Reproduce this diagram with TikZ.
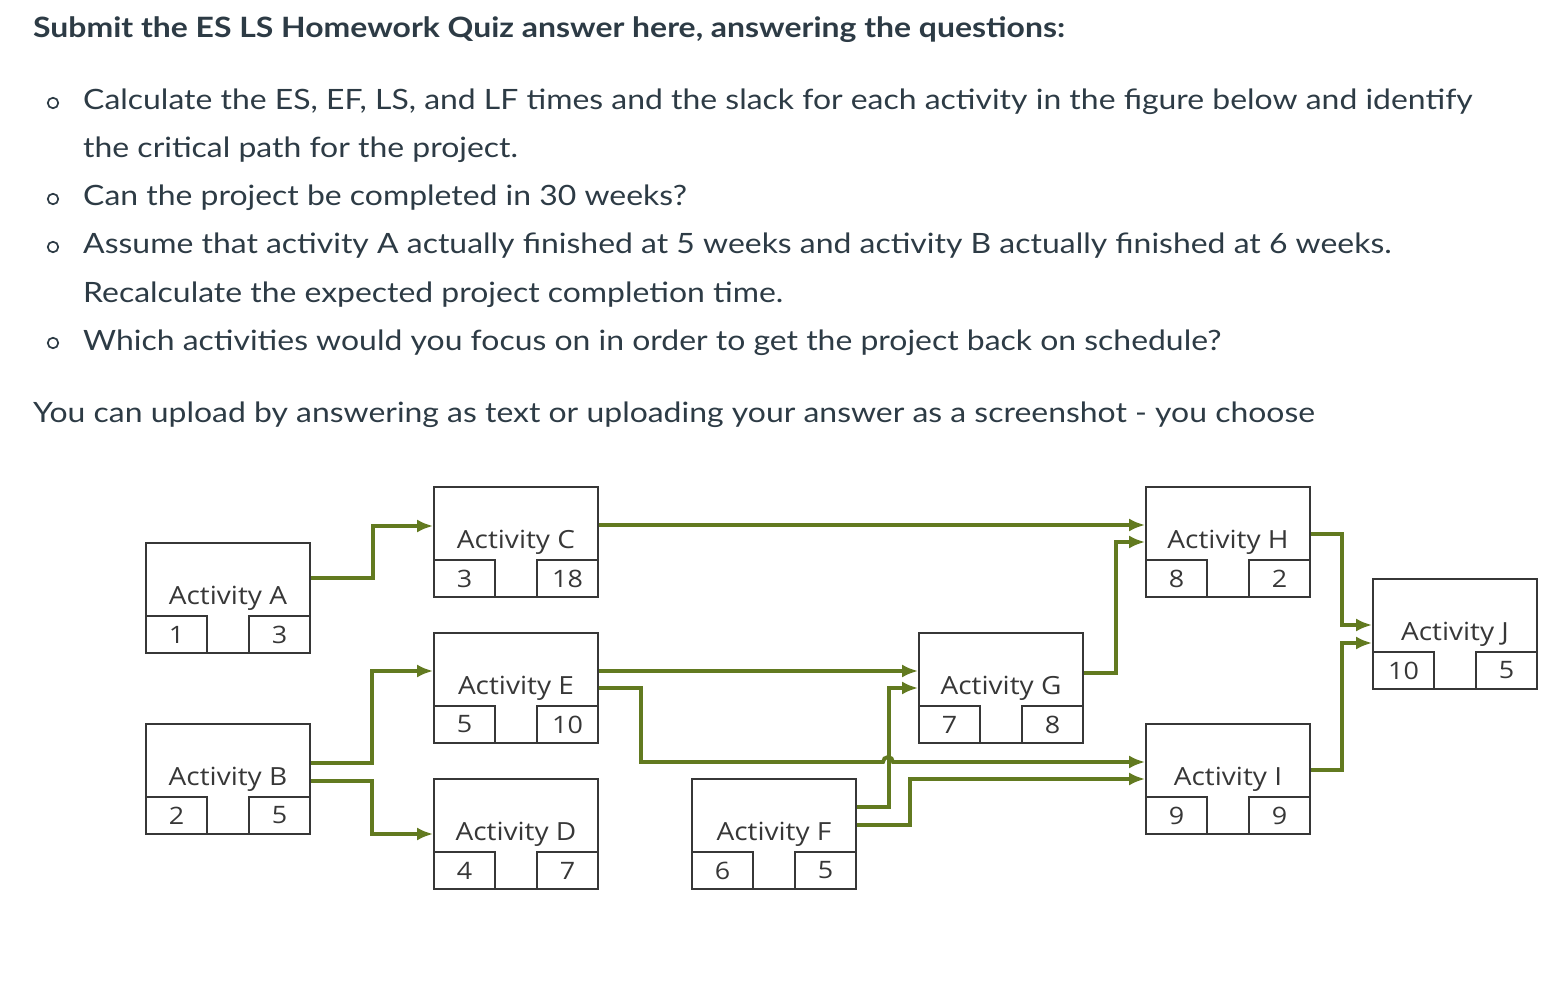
\documentclass[tikz,border=0pt]{standalone}
\usepackage{fontspec}
\setmainfont{Lato}[FakeStretch=1.14]
\newfontfamily\boxfont{Open Sans}[FakeStretch=1.12]
\usetikzlibrary{arrows.meta}
\definecolor{quiztext}{RGB}{45,59,69}
\definecolor{flowgreen}{RGB}{98,122,32}
\definecolor{boxline}{RGB}{55,55,55}

\begin{document}
\begin{tikzpicture}[x=1pt,y=1pt,
  actbox/.style={draw=boxline,line width=1.8pt,minimum width=164pt,minimum height=110pt,
    inner sep=0pt,font=\boxfont\fontsize{25}{30}\selectfont,text=boxline},
  cellbox/.style={draw=boxline,line width=1.8pt,minimum width=61pt,minimum height=37pt,
    inner sep=0pt,font=\boxfont\fontsize{24}{28}\selectfont,text=boxline},
  flow/.style={draw=flowgreen,line width=3.8pt,-{Latex[length=16pt,width=13pt]}},
  textline/.style={anchor=base west,inner sep=0pt,text=quiztext,font=\fontsize{28}{34}\selectfont},
  bulletmark/.style={circle,draw=quiztext,line width=1.7pt,minimum size=10.5pt,inner sep=0pt}]
\useasboundingbox (0,0) rectangle (1548,-1003);

\node[textline,font=\bfseries\fontsize{28}{34}\selectfont] (title) at (33,-38) {Submit the ES LS Homework Quiz answer here, answering the questions:};
\node[bulletmark] (b1) at (53,-103) {};
\node[textline] (q1) at (83,-110) {Calculate the ES, EF, LS, and LF times and the slack for each activity in the figure below and identify};
\node[textline] (q1b) at (83,-158) {the critical path for the project.};
\node[bulletmark] (b2) at (53,-199) {};
\node[textline] (q2) at (83,-206) {Can the project be completed in 30 weeks?};
\node[bulletmark] (b3) at (53,-247) {};
\node[textline] (q3) at (83,-254) {Assume that activity A actually finished at 5 weeks and activity B actually finished at 6 weeks.};
\node[textline] (q3b) at (83,-302) {Recalculate the expected project completion time.};
\node[bulletmark] (b4) at (53,-343) {};
\node[textline] (q4) at (83,-350) {Which activities would you focus on in order to get the project back on schedule?};
\node[textline] (note) at (33,-422) {You can upload by answering as text or uploading your answer as a screenshot - you choose};

\node[actbox] (A) at (228,-598) {Activity A};
\node[cellbox,anchor=south west] (A1) at (A.south west) {1};
\node[cellbox,anchor=south east] (A2) at (A.south east) {3};
\node[actbox] (B) at (228,-779) {Activity B};
\node[cellbox,anchor=south west] (B1) at (B.south west) {2};
\node[cellbox,anchor=south east] (B2) at (B.south east) {5};
\node[actbox] (C) at (516,-542) {Activity C};
\node[cellbox,anchor=south west] (C1) at (C.south west) {3};
\node[cellbox,anchor=south east] (C2) at (C.south east) {18};
\node[actbox] (E) at (516,-688) {Activity E};
\node[cellbox,anchor=south west] (E1) at (E.south west) {5};
\node[cellbox,anchor=south east] (E2) at (E.south east) {10};
\node[actbox] (D) at (516,-834) {Activity D};
\node[cellbox,anchor=south west] (D1) at (D.south west) {4};
\node[cellbox,anchor=south east] (D2) at (D.south east) {7};
\node[actbox] (F) at (774,-834) {Activity F};
\node[cellbox,anchor=south west] (F1) at (F.south west) {6};
\node[cellbox,anchor=south east] (F2) at (F.south east) {5};
\node[actbox] (G) at (1001,-688) {Activity G};
\node[cellbox,anchor=south west] (G1) at (G.south west) {7};
\node[cellbox,anchor=south east] (G2) at (G.south east) {8};
\node[actbox] (H) at (1228,-542) {Activity H};
\node[cellbox,anchor=south west] (H1) at (H.south west) {8};
\node[cellbox,anchor=south east] (H2) at (H.south east) {2};
\node[actbox] (I) at (1228,-779) {Activity I};
\node[cellbox,anchor=south west] (I1) at (I.south west) {9};
\node[cellbox,anchor=south east] (I2) at (I.south east) {9};
\node[actbox] (J) at (1455,-634) {Activity J};
\node[cellbox,anchor=south west] (J1) at (J.south west) {10};
\node[cellbox,anchor=south east] (J2) at (J.south east) {5};

\coordinate (hop) at (888,-762);
\draw[flow] ([yshift=20pt]A.east) -- ++(62,0) |- ([yshift=16pt]C.west);
\draw[flow] ([yshift=16pt]B.east) -- ++(61,0) |- ([yshift=17pt]E.west);
\draw[flow] ([yshift=-2pt]B.east) -- ++(61,0) |- (D.west);
\draw[flow] ([yshift=17pt]C.east) -- ([yshift=17pt]H.west);
\draw[flow] ([yshift=17pt]E.east) -- ([yshift=17pt]G.west);
\draw[flow] (E.east) -| ++(42,-74) -- ([xshift=-5pt]hop) arc[start angle=180,end angle=0,radius=5pt] -- ([yshift=17pt]I.west);
\draw[flow] ([yshift=27pt]F.east) -- ++(32,0) |- (G.west);
\draw[flow] ([yshift=9pt]F.east) -- ++(53,0) |- (I.west);
\draw[flow] ([yshift=15pt]G.east) -- ++(32,0) |- (H.west);
\draw[flow] ([yshift=8pt]H.east) -- ++(31,0) |- ([yshift=9pt]J.west);
\draw[flow] ([yshift=9pt]I.east) -- ++(31,0) |- ([yshift=-9pt]J.west);
\end{tikzpicture}
\end{document}
